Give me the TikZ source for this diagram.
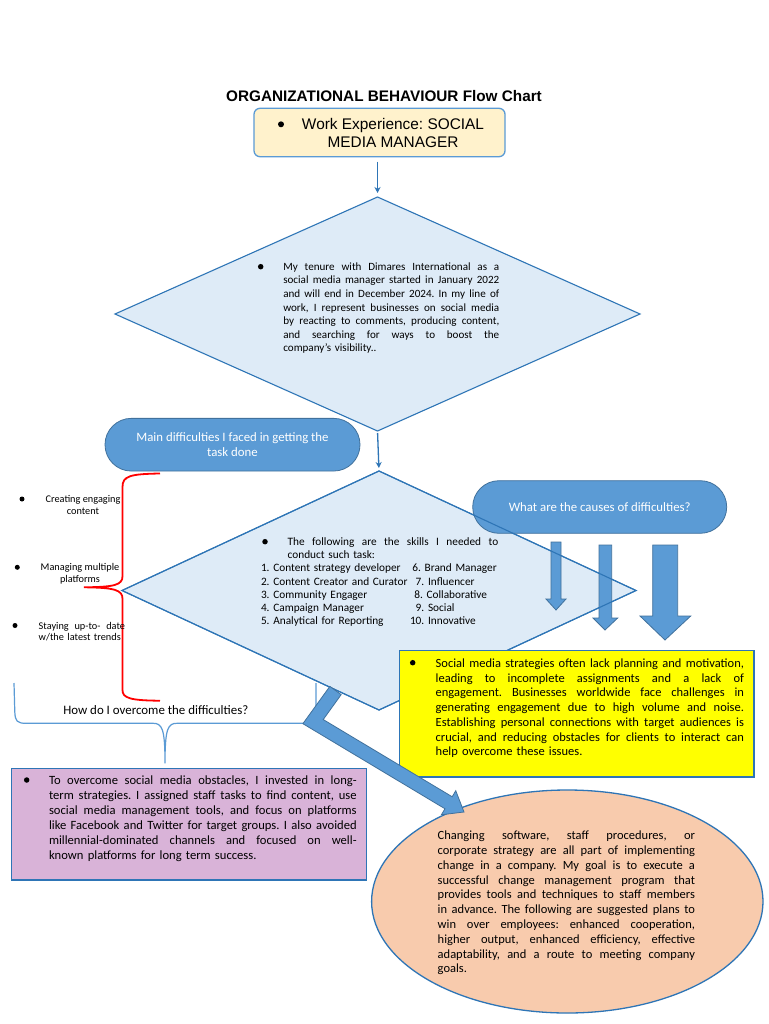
\documentclass[tikz,border=0pt]{standalone}
\usepackage{fontspec}
\setmainfont{Carlito}
\newfontfamily\arialfont{Liberation Sans}
\usetikzlibrary{shapes.geometric,shapes.misc,arrows.meta,calc}
\definecolor{cblue}{HTML}{2E75B6}
\definecolor{dfill}{HTML}{DEEBF7}
\definecolor{sfill}{HTML}{5B9BD5}
\definecolor{sborder}{HTML}{41719C}
\definecolor{tbfill}{HTML}{FFF2CC}
\definecolor{tbborder}{HTML}{5B9BD5}
\definecolor{pfill}{HTML}{D9B3D8}
\definecolor{efill}{HTML}{F8CBAD}
\definecolor{yfill}{HTML}{FFFF00}
\newcommand{\jl}[2]{\leavevmode\hbox to #1{\spaceskip=0.226em plus 1fil\xspaceskip=0.226em plus 1fil\relax #2}}
\begin{document}
\frenchspacing
\begin{tikzpicture}[x=1pt,y=-1pt,
  every node/.style={inner sep=0pt, outer sep=0pt},
  txt/.style={anchor=base west, align=left, text=black},
  bul/.style={circle, fill=black, minimum size=5.5pt},
  conn/.style={draw=cblue, line width=1.3pt, -{Stealth[length=6pt,width=6pt]}},
  blk/.style={fill=sfill, draw=sborder, line width=0.8pt, line join=miter},
  stad/.style={rounded rectangle, fill=sfill, draw=sborder, line width=0.8pt, text=white, align=center, font=\fontsize{12.8}{15.4}\selectfont},
  dia/.style={diamond, fill=dfill, draw=cblue, line width=1.1pt},
  dout/.style={diamond, draw=cblue, line width=1.1pt},
]
\useasboundingbox (0,0) rectangle (768,1024);
\fill[white] (0,0) rectangle (768,1024);

% title
\node[font=\arialfont\bfseries\fontsize{15.3}{18}\selectfont] (title) at (384,95.7) {ORGANIZATIONAL BEHAVIOUR Flow Chart};

% top box
\node[draw=tbborder, fill=tbfill, line width=1.3pt, rounded corners=6pt, minimum width=251pt, minimum height=48.4pt] (topbox) at (379.5,132.5) {};
\node[bul, minimum size=6pt] (tbbul) at (281,124.3) {};
\node[align=center, font=\arialfont\fontsize{15.4}{17.4}\selectfont] (tbtext) at (393,133) {Work Experience: SOCIAL\\MEDIA MANAGER};

% diamonds
\node[dia, minimum width=525pt, minimum height=234pt] (d1) at (377.5,314) {};
\node[dia, minimum width=514pt, minimum height=239pt] (d2) at (379,590.5) {};

% connectors
\draw[conn, shorten <=5pt, shorten >=4pt] (d1.north |- topbox.south) -- (d1.north);
\draw[conn, shorten <=2pt, shorten >=3pt] (d1.south) -- (d2.north);

% stadiums
\node[stad, minimum width=255pt, minimum height=52.7pt] (diff) at (232.5,444.7) {Main difficulties I faced in getting the\\task done};
\node[stad, minimum width=254pt, minimum height=52.6pt] (causes) at (599.7,507) {What are the causes of difficulties?};

% three block arrows
\draw[blk] (551,542) -- (561,542) -- (561,599) -- (566,599) -- (556,610) -- (546,599) -- (551,599) -- cycle;
\draw[blk] (599,545) -- (611.7,545) -- (611.7,618) -- (617.7,618) -- (605,630) -- (593,618) -- (599,618) -- cycle;
\draw[blk] (652.7,545) -- (677.7,545) -- (677.7,616) -- (690.7,616) -- (665,640) -- (640,616) -- (652.7,616) -- cycle;

% diamond 2 outline over arrows
\node[dout, minimum width=514pt, minimum height=239pt] (d2o) at (379,590.5) {};

% yellow box
\node[draw=cblue, fill=yfill, line width=1.5pt, minimum width=354.5pt, minimum height=126.5pt] (ybox) at (576.75,713.75) {};

% red brace
\draw[red, line width=1.8pt] (160,473.5) .. controls (130,474) and (122.5,476) .. (122.5,487) -- (122.5,576) .. controls (122.5,585) and (115,587) .. (84,587.3) .. controls (115,587.6) and (122.5,590) .. (122.5,599) -- (122.5,690) .. controls (122.5,698) and (130,700.5) .. (160,700.7);

% blue brace
\draw[sfill, line width=1.2pt] (14,683) -- (14.8,712) .. controls (15.2,721) and (17,723.3) .. (26,723.3) -- (153,723.3) .. controls (162,723.3) and (165,728) .. (165,763.3) .. controls (165,728) and (168,723.3) .. (177,723.3) -- (305,723.3) .. controls (313,723.3) and (316,719) .. (316,712) -- (316,683);

% left labels
\node[bul, minimum size=5pt] (lb1) at (22,499) {};
\node[bul, minimum size=5pt] (lb2) at (17.3,567.3) {};
\node[bul, minimum size=5pt] (lb3) at (15,625.5) {};
\node[align=center, font=\fontsize{10.3}{11.2}\selectfont] (lab1) at (83,505) {Creating engaging\\content};
\node[align=center, font=\fontsize{10.3}{11.2}\selectfont] (lab2) at (80,573.7) {Managing multiple\\platforms};
\node[txt, text width=86.3pt, font=\fontsize{10.3}{11.2}\selectfont] (lab3) at (38.7,629) {\jl{86.3pt}{Staying up-to- date}\\w/the latest trends};

\node[font=\fontsize{12.9}{15}\selectfont] (how) at (155.8,710) {How do I overcome the difficulties?};

% purple box
\node[draw=cblue, fill=pfill, line width=1.3pt, minimum width=355pt, minimum height=111.7pt] (pbox) at (189.2,824.2) {};

% ellipse
\node[ellipse, draw=cblue, fill=efill, line width=1.3pt, minimum width=391.4pt, minimum height=223pt] (ell) at (567.3,901.5) {};

% big bent arrow from diamond 2 to ellipse
\coordinate (P0) at (335.5,690.5);
\coordinate (P1) at (313,721.5);
\coordinate (T) at (464,812);
\coordinate (H) at ($(T)!18pt!(P1)$);
\coordinate (L0) at ($(P0)!7pt!90:(P1)$);
\coordinate (L1a) at ($(P1)!7pt!-90:(P0)$);
\coordinate (L1b) at ($(P1)!7pt!90:(H)$);
\coordinate (L2) at ($(H)!7pt!-90:(P1)$);
\coordinate (R0) at ($(P0)!7pt!-90:(P1)$);
\coordinate (R1a) at ($(P1)!7pt!90:(P0)$);
\coordinate (R1b) at ($(P1)!7pt!-90:(H)$);
\coordinate (R2) at ($(H)!7pt!90:(P1)$);
\coordinate (HL) at ($(H)!14pt!-90:(P1)$);
\coordinate (HR) at ($(H)!14pt!90:(P1)$);
\coordinate (LC) at (intersection of L0--L1a and L1b--L2);
\coordinate (RC) at (intersection of R0--R1a and R1b--R2);
\draw[blk] (L0) -- (LC) -- (L2) -- (HL) -- (T) -- (HR) -- (R2) -- (RC) -- (R0) -- cycle;

% diamond 1 text
\node[bul] (bd1) at (260.7,266.7) {};
\node[txt, text width=216pt, font=\fontsize{11.1}{13.6}\selectfont] (t1) at (283.3,270.2) {\jl{216pt}{My tenure with Dimares International as a}\\
\jl{216pt}{social media manager started in January 2022}\\
\jl{216pt}{and will end in December 2024. In my line of}\\
\jl{216pt}{work, I represent businesses on social media}\\
\jl{216pt}{by reacting to comments, producing content,}\\
\jl{216pt}{and searching for ways to boost the}\\
company’s visibility..};

% diamond 2 text
\node[bul] (bd2) at (265,541.7) {};
\node[txt, text width=210.6pt, font=\fontsize{11.3}{13.3}\selectfont] (t2a) at (287.7,545.2) {\jl{210.6pt}{The following are the skills I needed to}\\conduct such task:};
\node[txt, text width=150pt, font=\fontsize{11.3}{13.2}\selectfont] (t2l) at (261,571.8) {1. Content strategy developer\\2. Content Creator and Curator\\3. Community Engager\\4. Campaign Manager\\5. Analytical for Reporting};
\node[txt, text width=100pt, font=\fontsize{11.3}{13.2}\selectfont] (t2r) at (410,571.8) {\hspace*{2.3pt}6. Brand Manager\\\hspace*{5.7pt}7. Influencer\\\hspace*{4.3pt}8. Collaborative\\\hspace*{5.7pt}9. Social\\10. Innovative};

% yellow text
\node[bul] (by) at (412.7,662.7) {};
\node[txt, text width=308.3pt, font=\fontsize{12.5}{14.73}\selectfont] (ytxt) at (435.7,667.5) {\jl{308.3pt}{Social media strategies often lack planning and motivation,}\\
\jl{308.3pt}{leading to incomplete assignments and a lack of}\\
\jl{308.3pt}{engagement. Businesses worldwide face challenges in}\\
\jl{308.3pt}{generating engagement due to high volume and noise.}\\
\jl{308.3pt}{Establishing personal connections with target audiences is}\\
\jl{308.3pt}{crucial, and reducing obstacles for clients to interact can}\\
help overcome these issues.};

% purple text
\node[bul] (bp) at (26.7,780) {};
\node[txt, text width=307.7pt, font=\fontsize{12.6}{14.86}\selectfont] (ptxt) at (49,784.7) {\jl{307.7pt}{To overcome social media obstacles, I invested in long-}\\
\jl{307.7pt}{term strategies. I assigned staff tasks to find content, use}\\
\jl{307.7pt}{social media management tools, and focus on platforms}\\
\jl{307.7pt}{like Facebook and Twitter for target groups. I also avoided}\\
\jl{307.7pt}{millennial-dominated channels and focused on well-}\\
known platforms for long term success.};

% ellipse text
\node[txt, text width=257.3pt, font=\fontsize{12.5}{14.8}\selectfont] (etxt) at (437.7,839.7) {\jl{257.3pt}{Changing software, staff procedures, or}\\
\jl{257.3pt}{corporate strategy are all part of implementing}\\
\jl{257.3pt}{change in a company. My goal is to execute a}\\
\jl{257.3pt}{successful change management program that}\\
\jl{257.3pt}{provides tools and techniques to staff members}\\
\jl{257.3pt}{in advance. The following are suggested plans to}\\
\jl{257.3pt}{win over employees: enhanced cooperation,}\\
\jl{257.3pt}{higher output, enhanced efficiency, effective}\\
\jl{257.3pt}{adaptability, and a route to meeting company}\\
goals.};
\end{tikzpicture}
\end{document}
